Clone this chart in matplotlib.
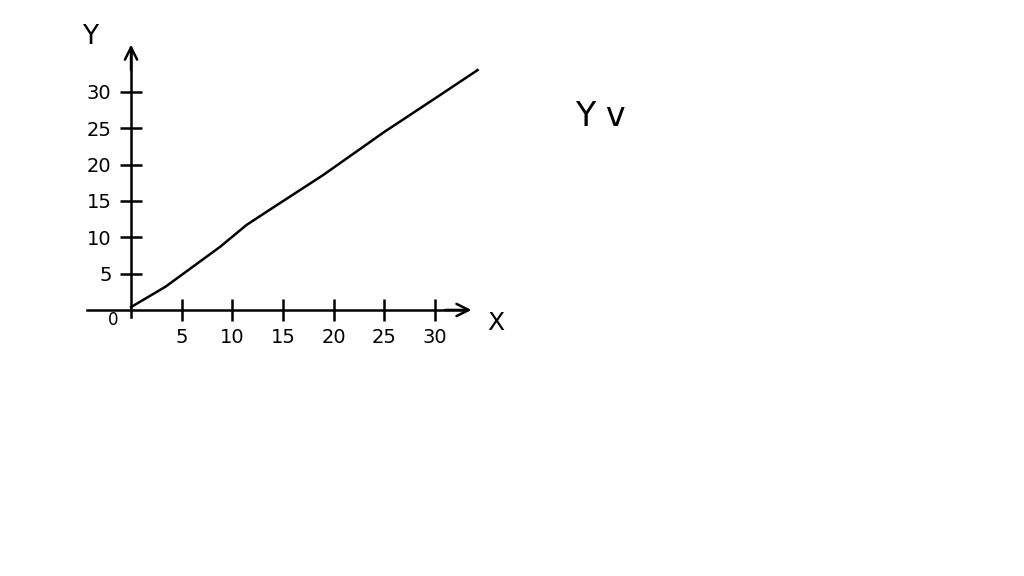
import matplotlib.pyplot as plt

# values
line_x = [0, 3.4, 8.8, 11.4, 13.7, 19.0, 25.0, 30.0, 34.2]
line_y = [0.4, 3.2, 8.7, 11.7, 13.8, 18.6, 24.5, 29.1, 33.0]
x_ticks = [5, 10, 15, 20, 25, 30]
y_ticks = [5, 10, 15, 20, 25, 30]

plt.rcParams['font.family'] = ['DejaVu Sans']

fig = plt.figure(figsize=(10.24, 5.76), dpi=100)
ax = fig.add_axes([0.0686, 0.3861, 0.4354, 0.5806])
ax.set_xlim(-6, 38)
ax.set_ylim(-6, 40)

# axes through the origin
for side in ("top", "right"):
    ax.spines[side].set_visible(False)
ax.spines["left"].set_position(("data", 0))
ax.spines["bottom"].set_position(("data", 0))
ax.spines["bottom"].set_bounds(-4.3, 33.0)
ax.spines["left"].set_bounds(-1, 35.8)
for s in ("left", "bottom"):
    ax.spines[s].set_linewidth(1.8)

# open arrow heads at the axis ends
arrow = dict(arrowstyle="->", lw=1.8, color="black", mutation_scale=22,
             shrinkA=0, shrinkB=0)
ax.annotate("", xy=(33.6, 0), xytext=(31, 0), arrowprops=arrow,
            annotation_clip=False)
ax.annotate("", xy=(0, 36.5), xytext=(0, 33), arrowprops=arrow,
            annotation_clip=False)

ax.set_xticks(x_ticks)
ax.set_yticks(y_ticks)
ax.tick_params(direction="inout", length=16, width=1.8, labelsize=14, pad=5)
ax.tick_params(axis="y", pad=6)

ax.plot(line_x, line_y, color="black", linewidth=1.8, clip_on=False)

ax.text(-1.8, -1.4, "0", fontsize=12, ha="center", va="center")
ax.text(-4.0, 37.5, "Y", fontsize=19, ha="center", va="center")
ax.text(36.0, -1.8, "X", fontsize=18, ha="center", va="center")

fig.text(600 / 1024, 1 - 117 / 576, "Y v", fontsize=24, ha="center", va="center")

fig.savefig("out.png", dpi=100, facecolor="white")
